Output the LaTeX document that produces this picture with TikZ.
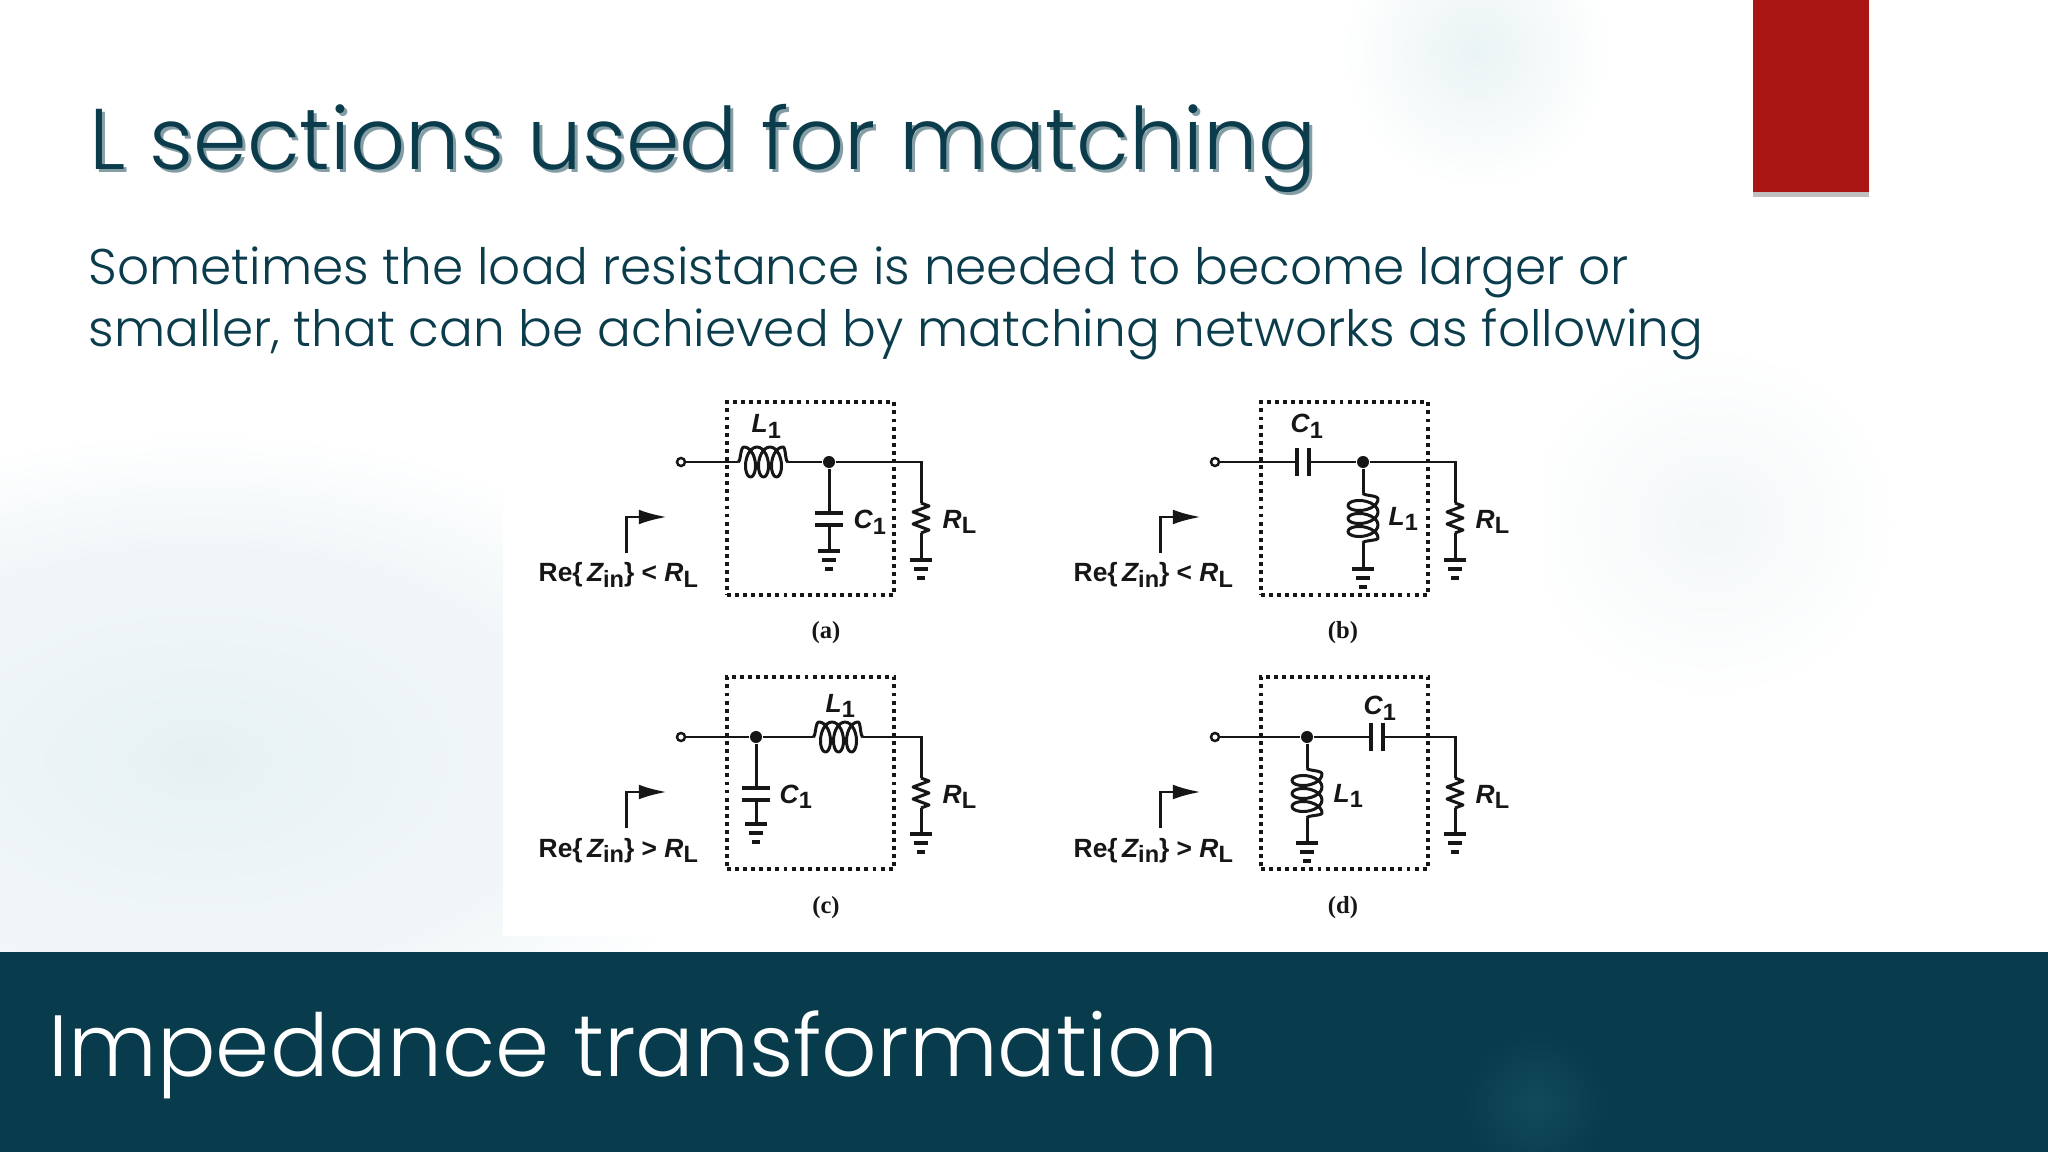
\documentclass[tikz,border=0pt]{standalone}
\usepackage{xcolor}
\usepackage{fontspec}
\usetikzlibrary{arrows.meta}
\setmainfont{Poppins}[UprightFont=* Light]
\newfontfamily\circfont{Liberation Sans}
\newfontfamily\tagfont{Liberation Serif}

\definecolor{slideteal}{HTML}{0B3C4C}
\definecolor{bandteal}{HTML}{083C4C}
\definecolor{slidered}{HTML}{A81512}
\definecolor{inkblack}{HTML}{161616}
\definecolor{blotA}{HTML}{E6F0F2}
\definecolor{blotAm}{HTML}{F0F6F8}
\definecolor{blotB}{HTML}{EAF3F4}
\definecolor{blotC}{HTML}{F3F7F8}
\definecolor{blotD}{HTML}{124A5A}

\pgfdeclareradialshading{blobA}{\pgfpoint{0bp}{0bp}}{color(0bp)=(blotA); color(12bp)=(blotAm); color(16bp)=(blotAm); color(25bp)=(white); color(100bp)=(white)}
\pgfdeclareradialshading{blobB}{\pgfpoint{0bp}{0bp}}{color(0bp)=(blotB); color(25bp)=(white); color(100bp)=(white)}
\pgfdeclareradialshading{blobC}{\pgfpoint{0bp}{0bp}}{color(0bp)=(blotC); color(25bp)=(white); color(100bp)=(white)}
\pgfdeclareradialshading{blobD}{\pgfpoint{0bp}{0bp}}{color(0bp)=(blotD); color(25bp)=(bandteal); color(100bp)=(bandteal)}

\newcommand{\sym}[2]{{\itshape #1}\raisebox{-1.5pt}{\fontsize{6.7pt}{7pt}\selectfont #2}}

\tikzset{
  wire/.style={draw=inkblack,line width=0.85pt},
  netbox/.style={draw=inkblack,line width=0.9pt,dash pattern=on 1.1pt off 1.2pt,inner sep=0pt},
  termdot/.style={circle,draw=inkblack,fill=white,line width=0.7pt,inner sep=0pt,minimum size=0.08cm},
  jdot/.style={circle,fill=inkblack,inner sep=0pt,minimum size=0.12cm},
  sideline/.style={draw=inkblack,line width=0.85pt,-{Latex[length=8pt,width=4.2pt]}},
  valuelabel/.style={anchor=base west,inner sep=0pt,text=inkblack,font=\circfont\bfseries\fontsize{7.5pt}{8pt}\selectfont},
  zinlabel/.style={anchor=base west,inner sep=0pt,text=inkblack,font=\circfont\bfseries\fontsize{7.5pt}{8pt}\selectfont},
  taglabel/.style={inner sep=0pt,text=inkblack,font=\tagfont\bfseries\fontsize{7pt}{8pt}\selectfont},
  headline/.style={anchor=base west,inner sep=0pt,text=slideteal,font=\fontsize{24.5pt}{28pt}\selectfont},
  headshadow/.style={headline,text=slideteal!50},
  bodyline/.style={anchor=base west,inner sep=0pt,text=slideteal,font=\fontsize{14.25pt}{17pt}\selectfont},
  bandline/.style={anchor=base west,inner sep=0pt,text=white,font=\fontsize{24.7pt}{30pt}\selectfont},
  ground/.pic={
    \draw[inkblack,line width=1.2pt] (-11,0) -- (11,0);
    \draw[inkblack,line width=1.3pt] (-7,9) -- (7,9);
    \draw[inkblack,line width=1.4pt] (-4,18) -- (4,18);
  },
  plates/.pic={
    \draw[inkblack,line width=1.25pt] (-14,-6) -- (14,-6);
    \draw[inkblack,line width=1.25pt] (-14,6) -- (14,6);
  },
  resistor/.pic={
    \draw[wire,line join=round] (0,0) -- (8,3) -- (-8,9) -- (8,15) -- (-8,21) -- (8,27) -- (0,30);
  },
  coilturns/.pic={
    \draw[wire,line join=round] (0,0) .. controls (3,0) and (2,-15) .. (6,-15)
      -- plot[smooth,samples=73,domain=0:1080,variable=\u] ({6+13*\u/360+8*sin(\u)},{-15*cos(\u)})
      .. controls (48,-15) and (47,0) .. (50,0);
  }
}

\begin{document}
\begin{tikzpicture}[x=0.01cm,y=-0.01cm]
\useasboundingbox (0,0) rectangle (2048,1152);
\fill[white] (0,0) rectangle (2048,1152);

% soft background
\shade[shading=blobA] (200,760) ellipse (560 and 330);
\shade[shading=blobB] (1476,50) ellipse (135 and 140);
\shade[shading=blobC] (1711,522) ellipse (190 and 180);

% red tab and band
\fill[black!25] (1753,192) rectangle (1869,197);
\fill[slidered] (1753,0) rectangle (1869,192);
\fill[bandteal] (0,952) rectangle (2048,1152);
\shade[shading=blobD] (1535,1104) circle (70);

% the scanned figure sits on white
\fill[white] (503,390) rectangle (1545,936);

\node[headshadow] (titleshade) at (92,173) {L sections used for matching};
\node[headline] (title) at (89,170) {L sections used for matching};
\node[bodyline] (bodyone) at (88,285) {Sometimes the load resistance is needed to become larger or};
\node[bodyline] (bodytwo) at (88,347) {smaller, that can be achieved by matching networks as following};
\node[bandline] (bandtitle) at (48,1076) {Impedance transformation};

%%%%% panel a
\node[netbox,minimum width=1.67cm,minimum height=1.93cm] (boxa) at (810.5,498.5) {};
\node[termdot] (terma) at (681,462) {};
\node[jdot] (dota) at (829,462) {};
\coordinate (coilainl) at (738,462);
\coordinate (coilaout) at (788,462);
\coordinate (capatop) at (829,513);
\coordinate (capabot) at (829,525);
\coordinate (capagnd) at (829,551);
\coordinate (rloada) at (921,462);
\coordinate (resatop) at (921,503);
\coordinate (resabot) at (921,533);
\coordinate (resagnd) at (921,560);
\draw[wire] (terma) -- (coilainl);
\draw[wire] (coilaout) -- (dota);
\draw[wire] (dota) -- (rloada) -- (resatop);
\draw[wire] (dota) -- (capatop);
\draw[wire] (capabot) -- (capagnd);
\draw[wire] (resabot) -- (resagnd);
\pic at (coilainl) {coilturns};
\pic at (829,519) {plates};
\pic at (capagnd) {ground};
\pic at (resatop) {resistor};
\pic at (resagnd) {ground};
\coordinate (lookafrom) at (626,553);
\coordinate (lookato) at (667,517);
\draw[sideline] (lookafrom) |- (lookato);
\node[valuelabel] (laba) at (751,433) {\sym{L}{1}};
\node[valuelabel] (cvala) at (853,529) {\sym{C}{1}};
\node[valuelabel] (rvala) at (942,528) {\sym{R}{L}};
\node[zinlabel] (zina) at (538,582) {Re\{\,\sym{Z}{in}\}\ <\ \sym{R}{L}};
\node[taglabel] (taga) at (826,633) {(a)};

%%%%% panel b
\node[netbox,minimum width=1.67cm,minimum height=1.93cm] (boxb) at (1344.5,498.5) {};
\node[termdot] (termb) at (1215,462) {};
\node[jdot] (dotb) at (1363,462) {};
\coordinate (capbinl) at (1297,462);
\coordinate (capbout) at (1309,462);
\coordinate (coilbtop) at (1363,493);
\coordinate (coilbbot) at (1363,543);
\coordinate (coilbgnd) at (1363,569);
\coordinate (rloadb) at (1455,462);
\coordinate (resbtop) at (1455,503);
\coordinate (resbbot) at (1455,533);
\coordinate (resbgnd) at (1455,560);
\draw[wire] (termb) -- (capbinl);
\draw[wire] (capbout) -- (dotb);
\draw[wire] (dotb) -- (rloadb) -- (resbtop);
\draw[wire] (dotb) -- (coilbtop);
\draw[wire] (coilbbot) -- (coilbgnd);
\draw[wire] (resbbot) -- (resbgnd);
\pic[rotate=-90] at (coilbtop) {coilturns};
\pic[rotate=90] at (1303,462) {plates};
\pic at (coilbgnd) {ground};
\pic at (resbtop) {resistor};
\pic at (resbgnd) {ground};
\coordinate (lookbfrom) at (1160,553);
\coordinate (lookbto) at (1201,517);
\draw[sideline] (lookbfrom) |- (lookbto);
\node[valuelabel] (cvalb) at (1290,433) {\sym{C}{1}};
\node[valuelabel] (labb) at (1388,525) {\sym{L}{1}};
\node[valuelabel] (rvalb) at (1475,528) {\sym{R}{L}};
\node[zinlabel] (zinb) at (1073,582) {Re\{\,\sym{Z}{in}\}\ <\ \sym{R}{L}};
\node[taglabel] (tagb) at (1343,633) {(b)};

%%%%% panel c
\node[netbox,minimum width=1.67cm,minimum height=1.92cm] (boxc) at (810.5,773) {};
\node[termdot] (termc) at (681,737) {};
\node[jdot] (dotc) at (756,737) {};
\coordinate (coilcinl) at (813,737);
\coordinate (coilcout) at (863,737);
\coordinate (capctop) at (756,788);
\coordinate (capcbot) at (756,800);
\coordinate (capcgnd) at (756,824);
\coordinate (rloadc) at (921,737);
\coordinate (resctop) at (921,778);
\coordinate (rescbot) at (921,808);
\coordinate (rescgnd) at (921,834);
\draw[wire] (termc) -- (dotc);
\draw[wire] (dotc) -- (coilcinl);
\draw[wire] (coilcout) -- (rloadc) -- (resctop);
\draw[wire] (dotc) -- (capctop);
\draw[wire] (capcbot) -- (capcgnd);
\draw[wire] (rescbot) -- (rescgnd);
\pic at (coilcinl) {coilturns};
\pic at (756,794) {plates};
\pic at (capcgnd) {ground};
\pic at (resctop) {resistor};
\pic at (rescgnd) {ground};
\coordinate (lookcfrom) at (626,828);
\coordinate (lookcto) at (667,792);
\draw[sideline] (lookcfrom) |- (lookcto);
\node[valuelabel] (labc) at (825,712) {\sym{L}{1}};
\node[valuelabel] (cvalc) at (779,803) {\sym{C}{1}};
\node[valuelabel] (rvalc) at (942,803) {\sym{R}{L}};
\node[zinlabel] (zinc) at (538,857) {Re\{\,\sym{Z}{in}\}\ >\ \sym{R}{L}};
\node[taglabel] (tagc) at (826,908) {(c)};

%%%%% panel d
\node[netbox,minimum width=1.67cm,minimum height=1.92cm] (boxd) at (1344.5,773) {};
\node[termdot] (termd) at (1215,737) {};
\node[jdot] (dotd) at (1307,737) {};
\coordinate (capdinl) at (1371,737);
\coordinate (capdout) at (1383,737);
\coordinate (coildtop) at (1307,768);
\coordinate (coildbot) at (1307,818);
\coordinate (coildgnd) at (1307,843);
\coordinate (rloadd) at (1455,737);
\coordinate (resdtop) at (1455,778);
\coordinate (resdbot) at (1455,808);
\coordinate (resdgnd) at (1455,834);
\draw[wire] (termd) -- (dotd);
\draw[wire] (dotd) -- (capdinl);
\draw[wire] (capdout) -- (rloadd) -- (resdtop);
\draw[wire] (dotd) -- (coildtop);
\draw[wire] (coildbot) -- (coildgnd);
\draw[wire] (resdbot) -- (resdgnd);
\pic[rotate=-90] at (coildtop) {coilturns};
\pic[rotate=90] at (1377,737) {plates};
\pic at (coildgnd) {ground};
\pic at (resdtop) {resistor};
\pic at (resdgnd) {ground};
\coordinate (lookdfrom) at (1160,828);
\coordinate (lookdto) at (1201,792);
\draw[sideline] (lookdfrom) |- (lookdto);
\node[valuelabel] (cvald) at (1363,715) {\sym{C}{1}};
\node[valuelabel] (labd) at (1333,802) {\sym{L}{1}};
\node[valuelabel] (rvald) at (1475,803) {\sym{R}{L}};
\node[zinlabel] (zind) at (1073,857) {Re\{\,\sym{Z}{in}\}\ >\ \sym{R}{L}};
\node[taglabel] (tagd) at (1343,908) {(d)};

\end{tikzpicture}
\end{document}
